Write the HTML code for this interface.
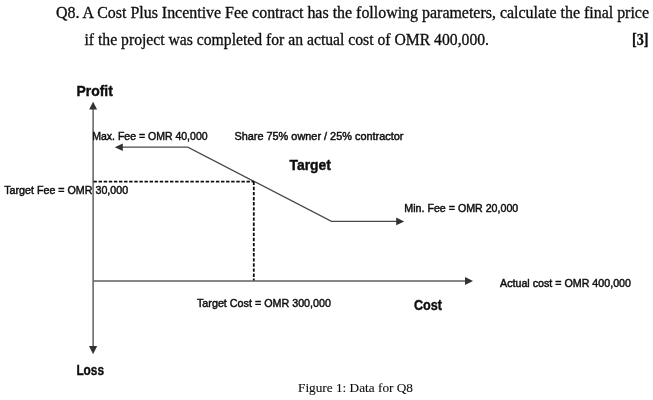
<!DOCTYPE html>
<html>
<head>
<meta charset="utf-8">
<title>Q8</title>
<style>
html,body{margin:0;padding:0;background:#fff;}
body{width:653px;height:400px;overflow:hidden;position:relative;}
svg{position:absolute;left:0;top:0;display:block;}
.serif{font-family:"Liberation Serif",serif;font-size:16px;fill:#0c0c0c;stroke:#0c0c0c;stroke-width:0.3px;}
.sans{font-family:"Liberation Sans",sans-serif;font-size:10.8px;fill:#0c0c0c;stroke:#0c0c0c;stroke-width:0.45px;}
.bold{font-family:"Liberation Sans",sans-serif;font-size:14.3px;font-weight:bold;fill:#0c0c0c;stroke:#0c0c0c;stroke-width:0.4px;}
</style>
</head>
<body>
<svg width="653" height="400" viewBox="0 0 653 400">
  <defs><filter id="soft" x="-5%" y="-5%" width="110%" height="110%"><feGaussianBlur stdDeviation="0.35"/></filter></defs>
  <rect x="0" y="0" width="653" height="400" fill="#ffffff"/>
  <g filter="url(#soft)">
  <!-- header text -->
  <text class="serif" x="56" y="18" textLength="593" lengthAdjust="spacingAndGlyphs">Q8. A Cost Plus Incentive Fee contract has the following parameters, calculate the final price</text>
  <text class="serif" x="84.5" y="44.5" textLength="404.5" lengthAdjust="spacingAndGlyphs">if the project was completed for an actual cost of OMR 400,000.</text>
  <text class="serif" x="632" y="44.5" font-weight="bold" textLength="16.5" lengthAdjust="spacingAndGlyphs">[3]</text>

  <!-- axes -->
  <g stroke="#4a4a4a" stroke-width="1.3" fill="none">
    <line x1="93.1" y1="108" x2="93.1" y2="348"/>
    <line x1="93.1" y1="281" x2="466" y2="281" stroke="#606060" stroke-width="1.5"/>
    <polyline points="122,147.2 187.8,147.2 331.5,221.4 397,221.4"/>
  </g>
  <g stroke="#111" stroke-width="1.8" fill="none" stroke-dasharray="3.4,1.7">
    <line x1="93.5" y1="181.7" x2="253.8" y2="181.7"/>
    <line x1="253.8" y1="181.7" x2="253.8" y2="280.5"/>
  </g>
  <!-- arrow heads -->
  <g fill="#333">
    <polygon points="93.1,101.8 89.1,109.4 97.1,109.4"/>
    <polygon points="93.1,354.2 89,346 97.2,346"/>
    <polygon points="114.8,147.2 122.8,143.4 122.8,151"/>
    <polygon points="404.2,221.4 396.2,217.5 396.2,225.3"/>
    <polygon points="473,281 465,277.1 465,284.9"/>
  </g>

  <!-- labels -->
  <text class="bold" x="76.5" y="96.1" textLength="36.3" lengthAdjust="spacingAndGlyphs">Profit</text>
  <text class="bold" x="289.5" y="170" textLength="41.5" lengthAdjust="spacingAndGlyphs">Target</text>
  <text class="bold" x="76.4" y="374.8" textLength="27.6" lengthAdjust="spacingAndGlyphs">Loss</text>
  <text class="bold" x="414" y="309.5" textLength="28" lengthAdjust="spacingAndGlyphs">Cost</text>

  <text class="sans" x="92.2" y="139.7" textLength="115.4" lengthAdjust="spacingAndGlyphs">Max. Fee = OMR 40,000</text>
  <text class="sans" x="234.4" y="139.5" textLength="169" lengthAdjust="spacingAndGlyphs">Share 75% owner / 25% contractor</text>
  <text class="sans" x="4.2" y="193.6" textLength="124" lengthAdjust="spacingAndGlyphs">Target Fee = OMR 30,000</text>
  <text class="sans" x="404.3" y="211.9" textLength="114" lengthAdjust="spacingAndGlyphs">Min. Fee = OMR 20,000</text>
  <text class="sans" x="500" y="286.8" textLength="131" lengthAdjust="spacingAndGlyphs">Actual cost = OMR 400,000</text>
  <text class="sans" x="197" y="306.7" textLength="134" lengthAdjust="spacingAndGlyphs">Target Cost = OMR 300,000</text>

  <text class="serif" x="298" y="391.7" textLength="115" lengthAdjust="spacingAndGlyphs" style="font-size:13.5px;stroke-width:0.1px">Figure 1: Data for Q8</text>
  </g>
</svg>
</body>
</html>
